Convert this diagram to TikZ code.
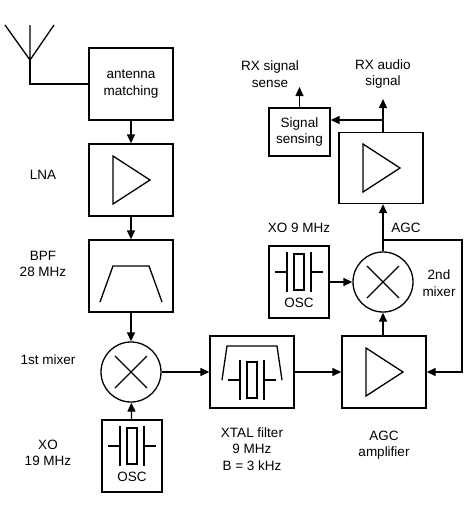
\documentclass[tikz,border=0pt]{standalone}
\usepackage{fontspec}
\setmainfont{Liberation Sans}
\usetikzlibrary{arrows.meta}
\begin{document}
\begin{tikzpicture}[x=1pt,y=-1pt,line width=1.3pt,
  box/.style={draw,minimum width=84pt,minimum height=72pt,inner sep=0pt},
  sbox/.style={draw,minimum width=60pt,minimum height=72pt,inner sep=0pt},
  mix/.style={draw,circle,minimum size=60pt,inner sep=0pt},
  lbl/.style={font=\fontsize{13.5}{16.5}\selectfont,align=center},
  arr/.style={-{Triangle[length=9pt,width=8pt]}},
  amp/.pic={\draw (-18,-24)--(19,0)--(-18,24)--cycle;},
  bpf/.pic={\draw (-31,20)--(-18,-16)--(18,-16)--(31,20);},
  xmix/.pic={\draw (-16,-16)--(16,16) (-16,16)--(16,-16);},
  xtal/.pic={\draw (-5,-18) rectangle (5,18) (-12,-20)--(-12,20) (12,-20)--(12,20) (-24,0)--(-12,0) (12,0)--(24,0);},
  oscsym/.pic={\draw (0,-10) pic{xtal}; \node[lbl] at (0,21) {OSC};}]
\useasboundingbox (0,0) rectangle (474,515);
% antenna
\coordinate (ant) at (30,60);
\draw (5,25)--(ant)--(54,25) (30,25)--(ant);
\node[box,lbl] (am) at (131,84) {antenna\\matching};
\draw (ant)--(30,84)--(am.west);
\node[box] (lna) at (131,180) {}; \pic at (lna) {amp};
\node[box] (bpf) at (131,276) {}; \pic at (131,282) {bpf};
\node[mix] (m1) at (131,372) {}; \pic at (m1) {xmix};
\node[sbox] (xo1) at (132,456) {}; \pic at (xo1) {oscsym};
\node[box] (xf) at (252,372) {};
\draw (222,380)--(227,346)--(277,346)--(282,380);
\pic at (252,380) {xtal};
\node[box] (agc) at (384,372) {}; \pic at (agc) {amp};
\node[mix] (m2) at (383,282) {}; \pic at (m2) {xmix};
\node[sbox] (xo2) at (299,282) {}; \pic at (xo2) {oscsym};
\node[draw,minimum width=84pt,minimum height=71pt,inner sep=0pt] (fa) at (381,168) {}; \pic at (fa) {amp};
\node[draw,lbl,minimum width=61pt,minimum height=48pt,inner sep=0pt] (ss) at (299.5,132) {Signal\\sensing};
\coordinate (ofa) at (383,99);
\coordinate (jn) at (383,120);
\coordinate (oss) at (299.5,87);
\coordinate (ag) at (383,240);
\coordinate (ag1) at (462,240);
\coordinate (ag2) at (462,372);
% connectors
\draw[arr] (am)--(lna);
\draw[arr] (lna)--(bpf);
\draw[arr] (bpf)--(m1);
\draw[arr] (xo1)--(m1);
\draw[arr] (m1)--(xf);
\draw[arr] (xf)--(agc);
\draw[arr] (agc.north-|m2)--(m2);
\draw[arr] (xo2)--(m2);
\draw[arr] (m2)--(fa.south-|m2);
\draw[arr] (fa.north-|ofa)--(ofa);
\draw[arr] (jn)--(ss.east|-jn);
\draw[arr] (ss)--(oss);
\draw[arr] (ag)--(ag1)--(ag2)--(agc.east);
% labels
\node[lbl] at (270,74) {RX signal\\sense};
\node[lbl] at (383,74) {RX audio\\signal};
\node[lbl] at (43,175) {LNA};
\node[lbl] at (43,264) {BPF\\28 MHz};
\node[lbl] at (48,360) {1st mixer};
\node[lbl] at (48,453) {XO\\19 MHz};
\node[lbl] at (252,449) {XTAL filter\\9 MHz\\B = 3 kHz};
\node[lbl] at (384,445) {AGC\\amplifier};
\node[lbl] at (299,228) {XO 9 MHz};
\node[lbl] at (406,228) {AGC};
\node[lbl] at (439,283) {2nd\\mixer};
\end{tikzpicture}
\end{document}
